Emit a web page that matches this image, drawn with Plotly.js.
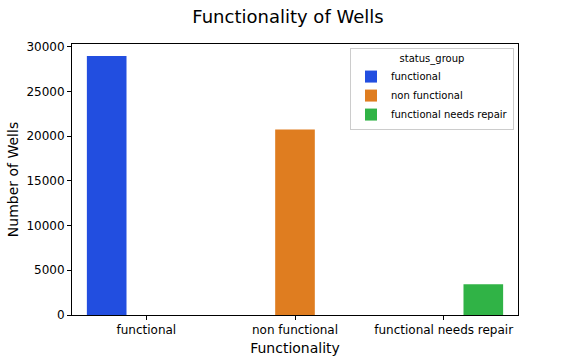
<!DOCTYPE html>
<html>
<head>
<meta charset="utf-8">
<script src="https://cdn.plot.ly/plotly-3.0.1.min.js"></script>
<style>html,body{margin:0;padding:0;background:#fff;}#chart{width:576px;height:360px;}</style>
</head>
<body>
<div id="chart"></div>
<script>
const categories = ["functional", "non functional", "functional needs repair"];
const counts = [28950, 20750, 3450];
const colors = ["#224ee0", "#df7d20", "#30b346"];

const nHue = categories.length;
const barW = 0.8 / nHue;
const traces = categories.map((cat, i) => ({
  type: "bar",
  name: cat,
  x: [cat],
  y: [counts[i]],
  width: [barW],
  offset: [-0.4 + i * barW],
  marker: {color: colors[i], line: {width: 0}},
  hoverinfo: "x+y"
}));

const font = "DejaVu Sans, sans-serif";
const layout = {
  width: 576, height: 360,
  margin: {l: 72, r: 58, t: 44, b: 45},
  paper_bgcolor: "#fff", plot_bgcolor: "#fff",
  font: {family: font, color: "#000"},
  title: {text: "Functionality of Wells", font: {size: 18, family: font, color: "#000"}, x: 0.5, xanchor: "center", y: 0.955, yanchor: "middle"},
  barmode: "overlay",
  xaxis: {
    type: "category", categoryarray: categories, categoryorder: "array",
    range: [-0.5, 2.5],
    title: {text: "Functionality", font: {size: 14, family: font, color: "#000"}, standoff: 6},
    tickfont: {size: 12, family: font, color: "#000"},
    ticks: "outside", ticklen: 4, tickcolor: "#000",
    showline: true, linecolor: "#000", linewidth: 1, mirror: true,
    showgrid: false, zeroline: false
  },
  yaxis: {
    range: [0, 30300],
    tickvals: [0, 5000, 10000, 15000, 20000, 25000, 30000],
    ticktext: ["0", "5000", "10000", "15000", "20000", "25000", "30000"],
    title: {text: "Number of Wells", font: {size: 14, family: font, color: "#000"}, standoff: 4},
    tickfont: {size: 12, family: font, color: "#000"},
    ticks: "outside", ticklen: 4, tickcolor: "#000",
    showline: true, linecolor: "#000", linewidth: 1, mirror: true,
    showgrid: false, zeroline: false
  },
  showlegend: true,
  legend: {
    x: 0.991, y: 0.985, xanchor: "right", yanchor: "top",
    bgcolor: "#fff", bordercolor: "#ccc", borderwidth: 1,
    font: {size: 10, family: font, color: "#000"},
    title: {text: "status_group", side: "top center", font: {size: 10, family: font, color: "#000"}},
    tracegroupgap: 0, itemwidth: 30
  }
};

Plotly.newPlot("chart", traces, layout, {displayModeBar: false, staticPlot: true});
</script>
</body>
</html>
